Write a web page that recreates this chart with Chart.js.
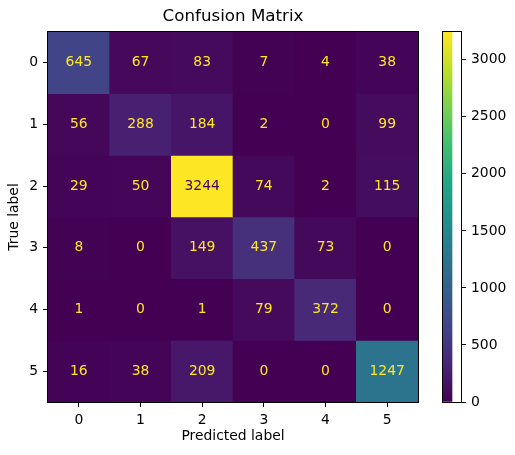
<!DOCTYPE html>
<html>
<head>
<meta charset="utf-8">
<script src="https://cdn.jsdelivr.net/npm/chart.js@4.4.1/dist/chart.umd.min.js"></script>
<style>
  html, body { margin: 0; padding: 0; background: #fff; }
  #wrap { position: relative; width: 515px; height: 455px; }
  #main { position: absolute; left: 0; top: 0; }
  #cbar { position: absolute; left: 440px; top: 0; }
</style>
</head>
<body>
<div id="wrap">
  <canvas id="main" width="515" height="455"></canvas>
  <canvas id="cbar" width="75" height="455"></canvas>
</div>
<script>
// ---- data ----
const categories = ['0', '1', '2', '3', '4', '5'];
const row0 = [645, 67, 83, 7, 4, 38];
const row1 = [56, 288, 184, 2, 0, 99];
const row2 = [29, 50, 3244, 74, 2, 115];
const row3 = [8, 0, 149, 437, 73, 0];
const row4 = [1, 0, 1, 79, 372, 0];
const row5 = [16, 38, 209, 0, 0, 1247];
const matrix = [row0, row1, row2, row3, row4, row5];
const colorbarTicks = [0, 500, 1000, 1500, 2000, 2500, 3000];
const titleText = 'Confusion Matrix';
const xLabel = 'Predicted label';
const yLabel = 'True label';

// ---- viridis colormap ----
const viridisStops = ['#440154', '#482475', '#414487', '#355f8d', '#2a788e',
  '#21918c', '#22a884', '#44bf70', '#7ad151', '#bddf26', '#fde725'];
function hexToRgb(h) {
  return [parseInt(h.slice(1, 3), 16), parseInt(h.slice(3, 5), 16), parseInt(h.slice(5, 7), 16)];
}
function viridis(t) {
  t = Math.max(0, Math.min(1, t));
  const n = viridisStops.length - 1;
  const i = Math.min(n - 1, Math.floor(t * n));
  const f = t * n - i;
  const a = hexToRgb(viridisStops[i]), b = hexToRgb(viridisStops[i + 1]);
  const c = a.map((v, k) => Math.round(v + (b[k] - v) * f));
  return 'rgb(' + c.join(',') + ')';
}
const allVals = matrix.flat();
const vmin = Math.min(...allVals);
const vmax = Math.max(...allVals);
const thresh = (vmax + vmin) / 2;

const FONT = 'DejaVu Sans';
const FS = 13.9;

// ---- main heatmap ----
const datasets = matrix.map((row, r) => ({
  label: categories[r],
  data: row.map(() => [r - 0.5, r + 0.5]),
  backgroundColor: row.map(v => viridis((v - vmin) / (vmax - vmin))),
  borderWidth: 0,
  grouped: false,
  barPercentage: 1,
  categoryPercentage: 1
}));

const cellText = {
  id: 'cellText',
  afterDatasetsDraw(chart) {
    const ctx = chart.ctx;
    const xs = chart.scales.x, ys = chart.scales.y;
    ctx.save();
    ctx.font = FS + 'px "' + FONT + '"';
    ctx.textAlign = 'center';
    ctx.textBaseline = 'middle';
    matrix.forEach((row, r) => {
      row.forEach((v, c) => {
        ctx.fillStyle = v < thresh ? '#fde725' : '#440154';
        ctx.fillText(String(v), xs.getPixelForValue(c), ys.getPixelForValue(r));
      });
    });
    ctx.restore();
  }
};
const frame = {
  id: 'frame',
  afterDraw(chart) {
    const a = chart.chartArea, ctx = chart.ctx;
    ctx.save();
    ctx.strokeStyle = '#000';
    ctx.lineWidth = 1;
    ctx.strokeRect(Math.round(a.left) - 0.5, Math.round(a.top) - 0.5,
      Math.round(a.right - a.left) + 1, Math.round(a.bottom - a.top) + 1);
    ctx.restore();
  }
};

new Chart(document.getElementById('main'), {
  type: 'bar',
  data: { labels: categories, datasets },
  options: {
    responsive: false,
    animation: false,
    layout: { padding: { left: 0, right: 97, top: 0, bottom: 0 } },
    plugins: {
      legend: { display: false },
      tooltip: { enabled: false },
      title: {
        display: true, text: titleText, fullSize: false, color: '#000',
        font: { family: FONT, size: 16.7, weight: 'normal' },
        padding: { top: 7, bottom: 5 }
      }
    },
    scales: {
      x: {
        type: 'category',
        offset: true,
        grid: { display: true, offset: false, drawOnChartArea: false, drawTicks: true, tickLength: 5, color: '#000' },
        border: { display: false },
        ticks: { color: '#000', padding: 5, font: { family: FONT, size: FS }, maxRotation: 0 },
        title: { display: true, text: xLabel, color: '#000', font: { family: FONT, size: FS }, padding: { top: 0, bottom: 10 } },
        afterFit(s) { s.height = 53; }
      },
      y: {
        type: 'linear',
        min: -0.5, max: 5.5, reverse: true,
        grid: { display: true, drawOnChartArea: false, drawTicks: true, tickLength: 5, color: '#000' },
        border: { display: false },
        ticks: { color: '#000', padding: 5, font: { family: FONT, size: FS }, callback: v => categories[v] },
        afterBuildTicks(s) { s.ticks = categories.map((_, i) => ({ value: i })); },
        title: { display: true, text: yLabel, color: '#000', font: { family: FONT, size: FS }, padding: { top: 6, bottom: 0 } },
        afterFit(s) { s.width = 48; }
      }
    }
  },
  plugins: [cellText, frame]
});

// ---- colorbar ----
new Chart(document.getElementById('cbar'), {
  type: 'bar',
  data: {
    labels: [''],
    datasets: [{
      data: [[vmin, vmax]],
      borderWidth: 0,
      barPercentage: 1,
      categoryPercentage: 1,
      backgroundColor(ctx) {
        const chart = ctx.chart;
        const ys = chart.scales.y;
        if (!ys || !chart.chartArea) return '#440154';
        const y0 = ys.getPixelForValue(vmin), y1 = ys.getPixelForValue(vmax);
        const g = chart.ctx.createLinearGradient(0, y0, 0, y1);
        viridisStops.forEach((c, i) => g.addColorStop(i / (viridisStops.length - 1), c));
        return g;
      }
    }]
  },
  options: {
    responsive: false,
    animation: false,
    layout: { padding: { left: 3, right: 0, top: 32, bottom: 53 } },
    plugins: { legend: { display: false }, tooltip: { enabled: false } },
    scales: {
      x: { display: false, offset: false },
      y: {
        position: 'right',
        min: vmin, max: vmax,
        grid: { display: true, drawOnChartArea: false, drawTicks: true, tickLength: 5, color: '#000' },
        border: { display: false },
        ticks: { color: '#000', padding: 5, font: { family: FONT, size: FS }, callback: v => String(v) },
        afterBuildTicks(s) { s.ticks = colorbarTicks.map(v => ({ value: v })); },
        afterFit(s) { s.width = 54; }
      }
    }
  },
  plugins: [frame]
});
</script>
</body>
</html>
